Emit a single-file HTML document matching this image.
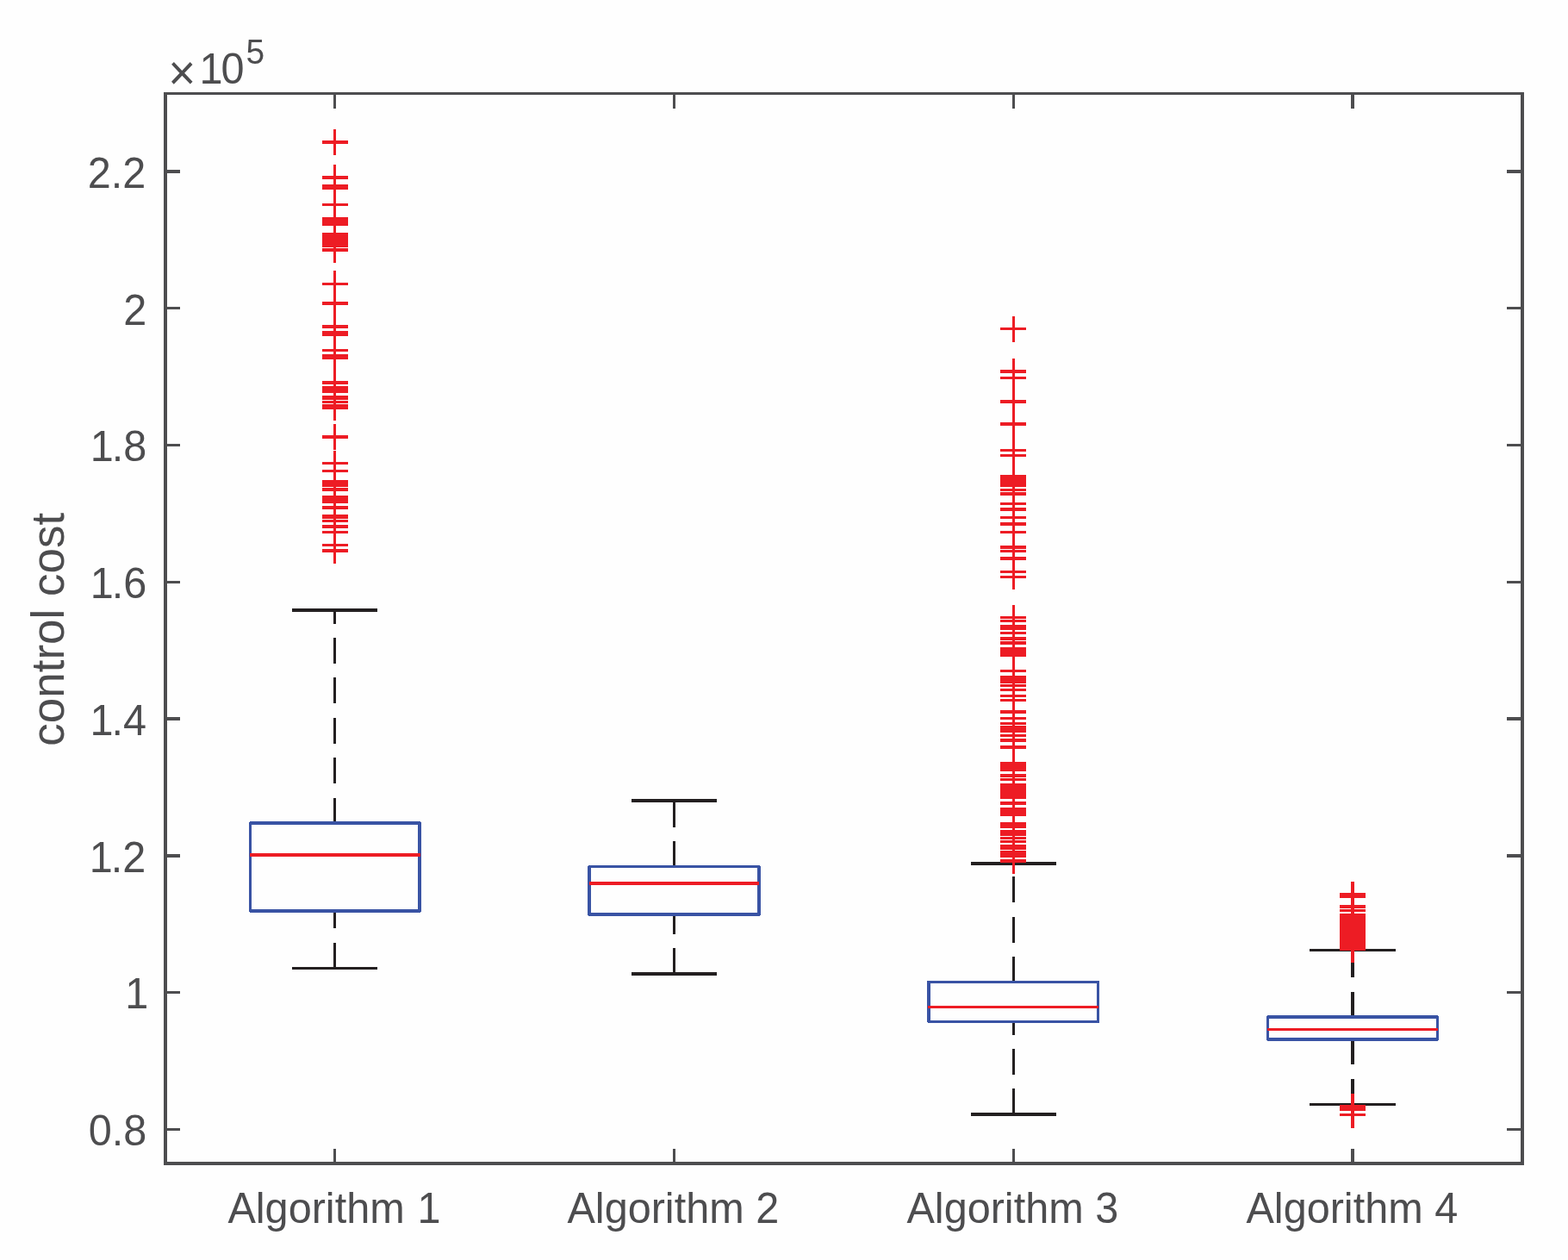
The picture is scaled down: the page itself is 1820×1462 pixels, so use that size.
<!DOCTYPE html>
<html lang="en">
<head>
<meta charset="utf-8">
<title>Control cost by algorithm (box plot)</title>
<style>
html,body{margin:0;padding:0;background:#fefefe;}
body{width:1820px;height:1462px;overflow:hidden;}
svg{display:block;}
svg rect{shape-rendering:crispEdges;}
svg text{font-family:"Liberation Sans",sans-serif;font-size:48.6px;fill:#4d4d4f;}
</style>
</head>
<body>
<svg width="1820" height="1462" viewBox="0 0 1820 1462">
<rect x="0" y="0" width="1820" height="1462" fill="#fefefe"/>
<g class="whiskers">
<rect x="387" y="706" width="3" height="18" fill="#231f20"/>
<rect x="387" y="740" width="3" height="30" fill="#231f20"/>
<rect x="387" y="786" width="3" height="30" fill="#231f20"/>
<rect x="387" y="833" width="3" height="30" fill="#231f20"/>
<rect x="387" y="879" width="3" height="30" fill="#231f20"/>
<rect x="387" y="926" width="3" height="29" fill="#231f20"/>
<rect x="387" y="1057" width="3" height="20" fill="#231f20"/>
<rect x="387" y="1094" width="3" height="30" fill="#231f20"/>
<rect x="781" y="929" width="3" height="31" fill="#231f20"/>
<rect x="781" y="976" width="3" height="29" fill="#231f20"/>
<rect x="781" y="1061" width="3" height="23" fill="#231f20"/>
<rect x="781" y="1100" width="3" height="30" fill="#231f20"/>
<rect x="1175" y="1017" width="3" height="30" fill="#231f20"/>
<rect x="1175" y="1064" width="3" height="30" fill="#231f20"/>
<rect x="1175" y="1110" width="3" height="30" fill="#231f20"/>
<rect x="1175" y="1186" width="3" height="15" fill="#231f20"/>
<rect x="1175" y="1217" width="3" height="30" fill="#231f20"/>
<rect x="1175" y="1263" width="3" height="30" fill="#231f20"/>
<rect x="1568" y="1102" width="4" height="32" fill="#231f20"/>
<rect x="1568" y="1151" width="4" height="29" fill="#231f20"/>
<rect x="1568" y="1206" width="4" height="29" fill="#231f20"/>
<rect x="1568" y="1252" width="4" height="30" fill="#231f20"/>
</g>
<g class="caps">
<rect x="339" y="706" width="99" height="4" fill="#231f20"/>
<rect x="339" y="1122" width="99" height="3" fill="#231f20"/>
<rect x="733" y="927" width="99" height="4" fill="#231f20"/>
<rect x="733" y="1128" width="99" height="4" fill="#231f20"/>
<rect x="1127" y="1000" width="99" height="4" fill="#231f20"/>
<rect x="1127" y="1291" width="99" height="4" fill="#231f20"/>
<rect x="1520" y="1101" width="100" height="3" fill="#231f20"/>
<rect x="1520" y="1280" width="100" height="3" fill="#231f20"/>
</g>
<g class="boxes">
<rect x="289" y="953" width="200" height="4" fill="#3953a4"/>
<rect x="289" y="1055" width="200" height="4" fill="#3953a4"/>
<rect x="289" y="953" width="3" height="106" fill="#3953a4"/>
<rect x="485" y="953" width="4" height="106" fill="#3953a4"/>
<rect x="682" y="1004" width="201" height="3" fill="#3953a4"/>
<rect x="682" y="1059" width="201" height="4" fill="#3953a4"/>
<rect x="682" y="1004" width="4" height="59" fill="#3953a4"/>
<rect x="879" y="1004" width="4" height="59" fill="#3953a4"/>
<rect x="1076" y="1138" width="200" height="3" fill="#3953a4"/>
<rect x="1076" y="1184" width="200" height="3" fill="#3953a4"/>
<rect x="1076" y="1138" width="4" height="49" fill="#3953a4"/>
<rect x="1273" y="1138" width="3" height="49" fill="#3953a4"/>
<rect x="1470" y="1178" width="200" height="4" fill="#3953a4"/>
<rect x="1470" y="1204" width="200" height="4" fill="#3953a4"/>
<rect x="1470" y="1178" width="3" height="30" fill="#3953a4"/>
<rect x="1667" y="1178" width="3" height="30" fill="#3953a4"/>
</g>
<g class="box-corners">
<rect x="289" y="953" width="1" height="1" fill="#fefefe"/>
<rect x="488" y="953" width="1" height="1" fill="#fefefe"/>
<rect x="289" y="1058" width="1" height="1" fill="#fefefe"/>
<rect x="488" y="1058" width="1" height="1" fill="#fefefe"/>
<rect x="682" y="1004" width="1" height="1" fill="#fefefe"/>
<rect x="882" y="1004" width="1" height="1" fill="#fefefe"/>
<rect x="682" y="1062" width="1" height="1" fill="#fefefe"/>
<rect x="882" y="1062" width="1" height="1" fill="#fefefe"/>
<rect x="1076" y="1186" width="1" height="1" fill="#fefefe"/>
<rect x="1470" y="1178" width="1" height="1" fill="#fefefe"/>
<rect x="1669" y="1178" width="1" height="1" fill="#fefefe"/>
<rect x="1470" y="1207" width="1" height="1" fill="#fefefe"/>
<rect x="1669" y="1207" width="1" height="1" fill="#fefefe"/>
</g>
<g class="medians">
<rect x="290" y="990" width="198" height="4" fill="#ed1c24"/>
<rect x="684" y="1023" width="197" height="4" fill="#ed1c24"/>
<rect x="1077" y="1167" width="198" height="3" fill="#ed1c24"/>
<rect x="1471" y="1193" width="198" height="3" fill="#ed1c24"/>
</g>
<g class="outliers">
<rect x="387" y="150" width="3" height="30" fill="#ed1c24"/>
<rect x="387" y="191" width="3" height="114" fill="#ed1c24"/>
<rect x="387" y="314" width="3" height="174" fill="#ed1c24"/>
<rect x="387" y="492" width="3" height="30" fill="#ed1c24"/>
<rect x="387" y="523" width="3" height="131" fill="#ed1c24"/>
<rect x="374" y="163" width="30" height="4" fill="#ed1c24"/>
<rect x="374" y="204" width="30" height="4" fill="#ed1c24"/>
<rect x="374" y="214" width="30" height="6" fill="#ed1c24"/>
<rect x="374" y="236" width="30" height="3" fill="#ed1c24"/>
<rect x="374" y="252" width="30" height="10" fill="#ed1c24"/>
<rect x="374" y="270" width="30" height="17" fill="#ed1c24"/>
<rect x="374" y="288" width="30" height="4" fill="#ed1c24"/>
<rect x="374" y="328" width="30" height="3" fill="#ed1c24"/>
<rect x="374" y="350" width="30" height="4" fill="#ed1c24"/>
<rect x="374" y="377" width="30" height="4" fill="#ed1c24"/>
<rect x="374" y="384" width="30" height="6" fill="#ed1c24"/>
<rect x="374" y="405" width="30" height="3" fill="#ed1c24"/>
<rect x="374" y="411" width="30" height="6" fill="#ed1c24"/>
<rect x="374" y="442" width="30" height="4" fill="#ed1c24"/>
<rect x="374" y="448" width="30" height="8" fill="#ed1c24"/>
<rect x="374" y="459" width="30" height="5" fill="#ed1c24"/>
<rect x="374" y="465" width="30" height="3" fill="#ed1c24"/>
<rect x="374" y="469" width="30" height="6" fill="#ed1c24"/>
<rect x="374" y="505" width="30" height="4" fill="#ed1c24"/>
<rect x="374" y="536" width="30" height="3" fill="#ed1c24"/>
<rect x="374" y="545" width="30" height="3" fill="#ed1c24"/>
<rect x="374" y="557" width="30" height="8" fill="#ed1c24"/>
<rect x="374" y="566" width="30" height="4" fill="#ed1c24"/>
<rect x="374" y="575" width="30" height="9" fill="#ed1c24"/>
<rect x="374" y="587" width="30" height="4" fill="#ed1c24"/>
<rect x="374" y="597" width="30" height="5" fill="#ed1c24"/>
<rect x="374" y="603" width="30" height="3" fill="#ed1c24"/>
<rect x="374" y="609" width="30" height="4" fill="#ed1c24"/>
<rect x="374" y="616" width="30" height="3" fill="#ed1c24"/>
<rect x="374" y="631" width="30" height="3" fill="#ed1c24"/>
<rect x="374" y="637" width="30" height="4" fill="#ed1c24"/>
<rect x="1175" y="367" width="3" height="30" fill="#ed1c24"/>
<rect x="1175" y="416" width="3" height="268" fill="#ed1c24"/>
<rect x="1175" y="702" width="3" height="312" fill="#ed1c24"/>
<rect x="1161" y="380" width="30" height="3" fill="#ed1c24"/>
<rect x="1161" y="429" width="30" height="4" fill="#ed1c24"/>
<rect x="1161" y="437" width="30" height="3" fill="#ed1c24"/>
<rect x="1161" y="464" width="30" height="4" fill="#ed1c24"/>
<rect x="1161" y="490" width="30" height="4" fill="#ed1c24"/>
<rect x="1161" y="521" width="30" height="3" fill="#ed1c24"/>
<rect x="1161" y="527" width="30" height="3" fill="#ed1c24"/>
<rect x="1161" y="551" width="30" height="14" fill="#ed1c24"/>
<rect x="1161" y="567" width="30" height="3" fill="#ed1c24"/>
<rect x="1161" y="571" width="30" height="4" fill="#ed1c24"/>
<rect x="1161" y="583" width="30" height="3" fill="#ed1c24"/>
<rect x="1161" y="589" width="30" height="4" fill="#ed1c24"/>
<rect x="1161" y="599" width="30" height="3" fill="#ed1c24"/>
<rect x="1161" y="606" width="30" height="4" fill="#ed1c24"/>
<rect x="1161" y="616" width="30" height="3" fill="#ed1c24"/>
<rect x="1161" y="633" width="30" height="4" fill="#ed1c24"/>
<rect x="1161" y="638" width="30" height="3" fill="#ed1c24"/>
<rect x="1161" y="646" width="30" height="4" fill="#ed1c24"/>
<rect x="1161" y="662" width="30" height="3" fill="#ed1c24"/>
<rect x="1161" y="668" width="30" height="3" fill="#ed1c24"/>
<rect x="1161" y="715" width="30" height="3" fill="#ed1c24"/>
<rect x="1161" y="719" width="30" height="3" fill="#ed1c24"/>
<rect x="1161" y="725" width="30" height="6" fill="#ed1c24"/>
<rect x="1161" y="733" width="30" height="3" fill="#ed1c24"/>
<rect x="1161" y="739" width="30" height="4" fill="#ed1c24"/>
<rect x="1161" y="744" width="30" height="4" fill="#ed1c24"/>
<rect x="1161" y="751" width="30" height="11" fill="#ed1c24"/>
<rect x="1161" y="777" width="30" height="3" fill="#ed1c24"/>
<rect x="1161" y="784" width="30" height="9" fill="#ed1c24"/>
<rect x="1161" y="794" width="30" height="3" fill="#ed1c24"/>
<rect x="1161" y="799" width="30" height="3" fill="#ed1c24"/>
<rect x="1161" y="806" width="30" height="3" fill="#ed1c24"/>
<rect x="1161" y="811" width="30" height="3" fill="#ed1c24"/>
<rect x="1161" y="824" width="30" height="4" fill="#ed1c24"/>
<rect x="1161" y="832" width="30" height="3" fill="#ed1c24"/>
<rect x="1161" y="838" width="30" height="3" fill="#ed1c24"/>
<rect x="1161" y="842" width="30" height="8" fill="#ed1c24"/>
<rect x="1161" y="852" width="30" height="3" fill="#ed1c24"/>
<rect x="1161" y="857" width="30" height="4" fill="#ed1c24"/>
<rect x="1161" y="865" width="30" height="4" fill="#ed1c24"/>
<rect x="1161" y="884" width="30" height="11" fill="#ed1c24"/>
<rect x="1161" y="898" width="30" height="4" fill="#ed1c24"/>
<rect x="1161" y="903" width="30" height="3" fill="#ed1c24"/>
<rect x="1161" y="909" width="30" height="18" fill="#ed1c24"/>
<rect x="1161" y="930" width="30" height="4" fill="#ed1c24"/>
<rect x="1161" y="937" width="30" height="10" fill="#ed1c24"/>
<rect x="1161" y="954" width="30" height="7" fill="#ed1c24"/>
<rect x="1161" y="963" width="30" height="7" fill="#ed1c24"/>
<rect x="1161" y="971" width="30" height="3" fill="#ed1c24"/>
<rect x="1161" y="975" width="30" height="3" fill="#ed1c24"/>
<rect x="1161" y="980" width="30" height="6" fill="#ed1c24"/>
<rect x="1161" y="987" width="30" height="8" fill="#ed1c24"/>
<rect x="1161" y="997" width="30" height="4" fill="#ed1c24"/>
<rect x="1568" y="1023" width="4" height="94" fill="#ed1c24"/>
<rect x="1568" y="1269" width="4" height="40" fill="#ed1c24"/>
<rect x="1555" y="1036" width="30" height="6" fill="#ed1c24"/>
<rect x="1555" y="1050" width="30" height="4" fill="#ed1c24"/>
<rect x="1555" y="1055" width="30" height="3" fill="#ed1c24"/>
<rect x="1555" y="1060" width="30" height="43" fill="#ed1c24"/>
<rect x="1555" y="1282" width="30" height="7" fill="#ed1c24"/>
<rect x="1555" y="1292" width="30" height="3" fill="#ed1c24"/>
</g>
<g class="axes">
<rect x="190" y="107" width="4" height="1245" fill="#4d4d4f"/>
<rect x="1765" y="107" width="4" height="1245" fill="#4d4d4f"/>
<rect x="190" y="107" width="1579" height="3" fill="#4d4d4f"/>
<rect x="190" y="1348" width="1579" height="4" fill="#4d4d4f"/>
<rect x="194" y="197" width="15" height="4" fill="#4d4d4f"/>
<rect x="1749" y="197" width="16" height="4" fill="#4d4d4f"/>
<rect x="194" y="356" width="15" height="3" fill="#4d4d4f"/>
<rect x="1749" y="356" width="16" height="3" fill="#4d4d4f"/>
<rect x="194" y="515" width="15" height="3" fill="#4d4d4f"/>
<rect x="1749" y="515" width="16" height="3" fill="#4d4d4f"/>
<rect x="194" y="674" width="15" height="3" fill="#4d4d4f"/>
<rect x="1749" y="674" width="16" height="3" fill="#4d4d4f"/>
<rect x="194" y="832" width="15" height="4" fill="#4d4d4f"/>
<rect x="1749" y="832" width="16" height="4" fill="#4d4d4f"/>
<rect x="194" y="991" width="15" height="4" fill="#4d4d4f"/>
<rect x="1749" y="991" width="16" height="4" fill="#4d4d4f"/>
<rect x="194" y="1150" width="15" height="3" fill="#4d4d4f"/>
<rect x="1749" y="1150" width="16" height="3" fill="#4d4d4f"/>
<rect x="194" y="1309" width="15" height="3" fill="#4d4d4f"/>
<rect x="1749" y="1309" width="16" height="3" fill="#4d4d4f"/>
<rect x="387" y="110" width="3" height="16" fill="#4d4d4f"/>
<rect x="387" y="1333" width="3" height="15" fill="#4d4d4f"/>
<rect x="781" y="110" width="3" height="16" fill="#4d4d4f"/>
<rect x="781" y="1333" width="3" height="15" fill="#4d4d4f"/>
<rect x="1175" y="110" width="3" height="16" fill="#4d4d4f"/>
<rect x="1175" y="1333" width="3" height="15" fill="#4d4d4f"/>
<rect x="1568" y="110" width="4" height="16" fill="#4d4d4f"/>
<rect x="1568" y="1333" width="4" height="15" fill="#4d4d4f"/>
</g>
<g class="labels">
<text transform="translate(101.74,218) scale(1,1.035)">2.2</text>
<text transform="translate(143.27,377) scale(1,1.035)">2</text>
<text transform="translate(102.74,535) scale(1,1.035)" dx="2 -2">1.8</text>
<text transform="translate(102.74,694) scale(1,1.035)" dx="2 -2">1.6</text>
<text transform="translate(102.44,853) scale(1,1.035)" dx="2 -2">1.4</text>
<text transform="translate(101.74,1012) scale(1,1.035)" dx="2 -2">1.2</text>
<text transform="translate(145.27,1170) scale(1,1.035)">1</text>
<text transform="translate(102.74,1329) scale(1,1.035)">0.8</text>
<text transform="translate(388,1419) scale(1,1.03)" text-anchor="middle" dx="0 0 0 0 0 0 0 0 0 0 1.4">Algorithm 1</text>
<text transform="translate(781.3,1419) scale(1,1.03)" text-anchor="middle">Algorithm 2</text>
<text transform="translate(1175.3,1419) scale(1,1.03)" text-anchor="middle">Algorithm 3</text>
<text transform="translate(1569.3,1419) scale(1,1.03)" text-anchor="middle">Algorithm 4</text>
<text transform="translate(0,96.9) scale(1,1.035)"><tspan x="195.2" dy="6.86" style="font-size:54.9px">×</tspan><tspan x="229.6" dy="-6.86" dx="2 -2">10</tspan><tspan x="285.6" dy="-22.03" style="font-size:38.9px">5</tspan></text>
<text transform="translate(74,730.3) rotate(-90) scale(0.991,1)" text-anchor="middle" style="font-size:53.46px">control cost</text>
</g>
</svg>
</body>
</html>
